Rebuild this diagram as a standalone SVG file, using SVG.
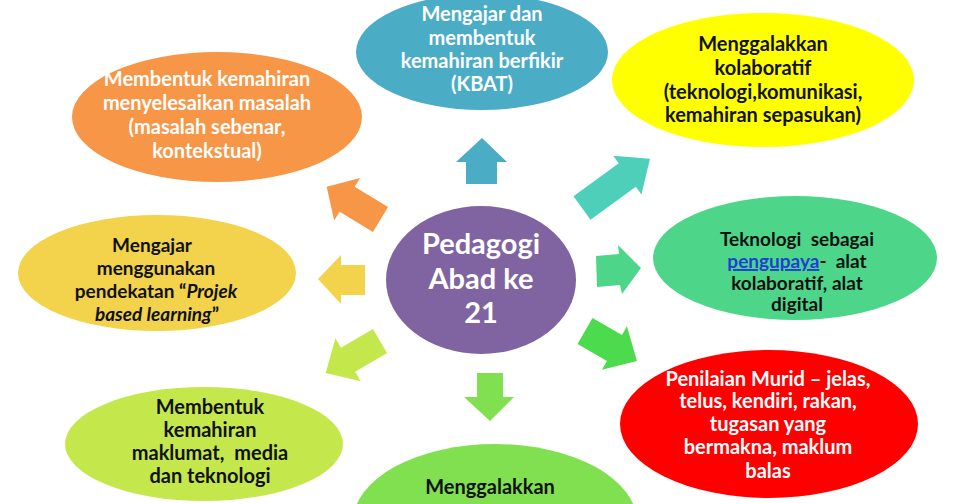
<svg xmlns="http://www.w3.org/2000/svg" width="960" height="504" viewBox="0 0 960 504">
<style>
text{font-family:Lato,"Open Sans","Liberation Sans",sans-serif;font-weight:700;font-size:20px;text-anchor:middle}
.w{fill:#FFFFFF}
.k{fill:#111111}
.m{font-size:19px}
.big{font-size:29px}
.it{font-style:italic}
.link{fill:#1F3FD6;text-decoration:underline}
</style>
<rect width="960" height="504" fill="#FFFFFF"/>
<g id="n-top">
<ellipse cx="482" cy="52" rx="126" ry="58" fill="#4BACC6"/>
<text class="w"><tspan x="482" y="21">Mengajar dan</tspan><tspan x="482" y="45">membentuk</tspan><tspan x="482" y="68">kemahiran berfikir</tspan><tspan x="482" y="91">(KBAT)</tspan></text>
</g>
<g id="n-kolab">
<ellipse cx="763" cy="80" rx="151" ry="67" fill="#FFFF00"/>
<text class="k"><tspan x="763" y="51">Menggalakkan</tspan><tspan x="763" y="75">kolaboratif</tspan><tspan x="763" y="99">(teknologi,komunikasi,</tspan><tspan x="763" y="122">kemahiran sepasukan)</tspan></text>
</g>
<g id="n-masalah">
<ellipse cx="217" cy="117" rx="145" ry="65" fill="#F79646"/>
<text class="w"><tspan x="207" y="86">Membentuk kemahiran</tspan><tspan x="207" y="110">menyelesaikan masalah</tspan><tspan x="207" y="134">(masalah sebenar,</tspan><tspan x="207" y="158">kontekstual)</tspan></text>
</g>
<g id="n-projek">
<ellipse cx="157" cy="273" rx="139" ry="58" fill="#F2D34B"/>
<text class="k m" xml:space="preserve"><tspan x="152" y="252">Mengajar</tspan><tspan x="156" y="275">menggunakan</tspan><tspan x="156" y="298">pendekatan “<tspan class="it">Projek</tspan></tspan><tspan x="157" y="321"><tspan class="it">based learning</tspan>”</tspan></text>
</g>
<g id="n-teknologi">
<ellipse cx="795" cy="258" rx="142" ry="62" fill="#4DD68A"/>
<text class="k m" xml:space="preserve"><tspan x="797" y="246">Teknologi  sebagai</tspan><tspan x="797" y="268"><tspan class="link">pengupaya</tspan>-  alat</tspan><tspan x="797" y="290">kolaboratif, alat</tspan><tspan x="797" y="311">digital</tspan></text>
</g>
<g id="n-penilaian">
<ellipse cx="769" cy="424" rx="149" ry="74" fill="#FF0000"/>
<text class="w"><tspan x="768" y="386">Penilaian Murid – jelas,</tspan><tspan x="768" y="408">telus, kendiri, rakan,</tspan><tspan x="768" y="431">tugasan yang</tspan><tspan x="768" y="454">bermakna, maklum</tspan><tspan x="768" y="478">balas</tspan></text>
</g>
<g id="n-maklumat">
<ellipse cx="204" cy="444" rx="139" ry="57" fill="#C4E84B"/>
<text class="k" xml:space="preserve"><tspan x="210" y="414">Membentuk</tspan><tspan x="210" y="437">kemahiran</tspan><tspan x="210" y="460">maklumat,  media</tspan><tspan x="210" y="483">dan teknologi</tspan></text>
</g>
<g id="n-bottom">
<ellipse cx="495" cy="522" rx="142" ry="78" fill="#80E04F"/>
<text class="k"><tspan x="490" y="494">Menggalakkan</tspan></text>
</g>
<g id="n-center">
<ellipse cx="481" cy="280" rx="95" ry="74" fill="#8064A2"/>
<text class="w big"><tspan x="481" y="254">Pedagogi</tspan><tspan x="481" y="289">Abad ke</tspan><tspan x="481" y="323">21</tspan></text>
</g>
<g id="connectors">
<polygon fill="#4BACC6" points="466,184 466,162 456,162 482,138 507,162 497,162 497,184"/>
<polygon fill="#4ECFBA" transform="translate(582,208) rotate(-36)" points="0,-14.5 56,-14.5 56,-24 84,0 56,24 56,14.5 0,14.5"/>
<polygon fill="#4DD68A" points="596,256 619,254 618,245 641,268 622,294 620,285 597,287"/>
<polygon fill="#4CDB4C" transform="translate(585,331) rotate(30)" points="0,-15 34,-15 34,-25 60,0 34,25 34,15 0,15"/>
<polygon fill="#80E04F" points="477,373 503,373 503,397 514,397 490,421 464,397 477,397"/>
<polygon fill="#C4E84B" transform="translate(380,341) rotate(149.6)" points="0,-14 37,-14 37,-25 63,0 37,25 37,14 0,14"/>
<polygon fill="#F2D34B" points="365,265 341,265 341,255 318,279 341,304 341,295 365,295"/>
<polygon fill="#F79646" transform="translate(380.5,219.5) rotate(-148.7)" points="0,-14.5 39,-14.5 39,-25 63,0 39,25 39,14.5 0,14.5"/>
</g>
</svg>
